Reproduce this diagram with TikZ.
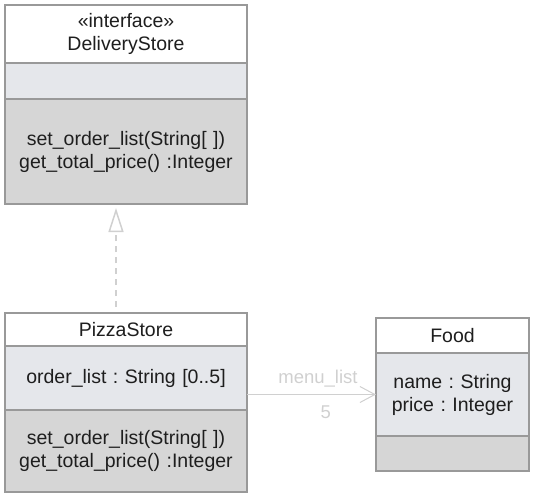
\documentclass[tikz,border=0pt]{standalone}
\usepackage{fontspec}
\setmainfont{Liberation Sans}
\frenchspacing
\usetikzlibrary{positioning,arrows.meta}
\definecolor{umlborder}{RGB}{153,153,153}
\definecolor{umlattr}{RGB}{229,231,235}
\definecolor{umlmeth}{RGB}{214,214,214}
\definecolor{umllink}{RGB}{208,208,208}
\definecolor{umltext}{RGB}{30,30,30}

\begin{document}
\begin{tikzpicture}[node distance=0pt]
    \tikzstyle{part} = [rectangle, draw=umlborder, line width=2pt, inner sep=0pt, outer sep=0pt, align=center, text=umltext, font=\fontsize{19.5}{23}\selectfont]
    \tikzstyle{namepart} = [part, fill=white]
    \tikzstyle{attrpart} = [part, fill=umlattr]
    \tikzstyle{methpart} = [part, fill=umlmeth]
    \tikzstyle{linklabel} = [text=umllink, font=\fontsize{18.5}{22}\selectfont]
    \tikzstyle{realize} = [umllink, line width=2pt, dash pattern=on 6pt off 5pt, shorten <=6pt, shorten >=4pt, -{Triangle[open, length=24pt, width=15pt, line width=1.5pt]}]
    \tikzstyle{assoc} = [umllink, line width=1pt, -{Straight Barb[length=15pt, width=16pt]}]

    \useasboundingbox (0,0) rectangle (549pt,-498pt);

    % interface
    \node[namepart, text width=242pt, minimum height=58pt, anchor=north west] (dsname) at (5pt,-5pt) {«interface»\\DeliveryStore};
    \node[attrpart, text width=242pt, minimum height=36pt, below=of dsname] (dsattr) {};
    \node[methpart, text width=242pt, minimum height=105pt, below=of dsattr] (dsmeth) {set\_order\_list(String[ ])\\get\_total\_price() :Integer};

    % implementing class
    \node[namepart, text width=242pt, minimum height=33pt, anchor=north west] (pzname) at (5pt,-313pt) {PizzaStore};
    \node[attrpart, text width=242pt, minimum height=64pt, below=of pzname] (pzattr) {order\_list : String [0..5]};
    \node[methpart, text width=242pt, minimum height=82pt, below=of pzattr] (pzmeth) {set\_order\_list(String[ ])\\get\_total\_price() :Integer};

    % food
    \node[namepart, text width=153pt, minimum height=35pt, anchor=north west] (fdname) at (376pt,-318pt) {Food};
    \node[attrpart, text width=153pt, minimum height=83pt, below=of fdname] (fdattr) {name : String\\price : Integer};
    \node[methpart, text width=153pt, minimum height=35pt, below=of fdattr] (fdmeth) {};

    \draw[realize] ([xshift=-10pt]pzname.north) -- ([xshift=-10pt]dsmeth.south);
    \draw[assoc] (pzattr.east |- fdattr.west) -- node[linklabel, above=3pt, pos=.55] {menu\_list} node[linklabel, below=7pt, pos=.61] {5} (fdattr.west);
\end{tikzpicture}
\end{document}
